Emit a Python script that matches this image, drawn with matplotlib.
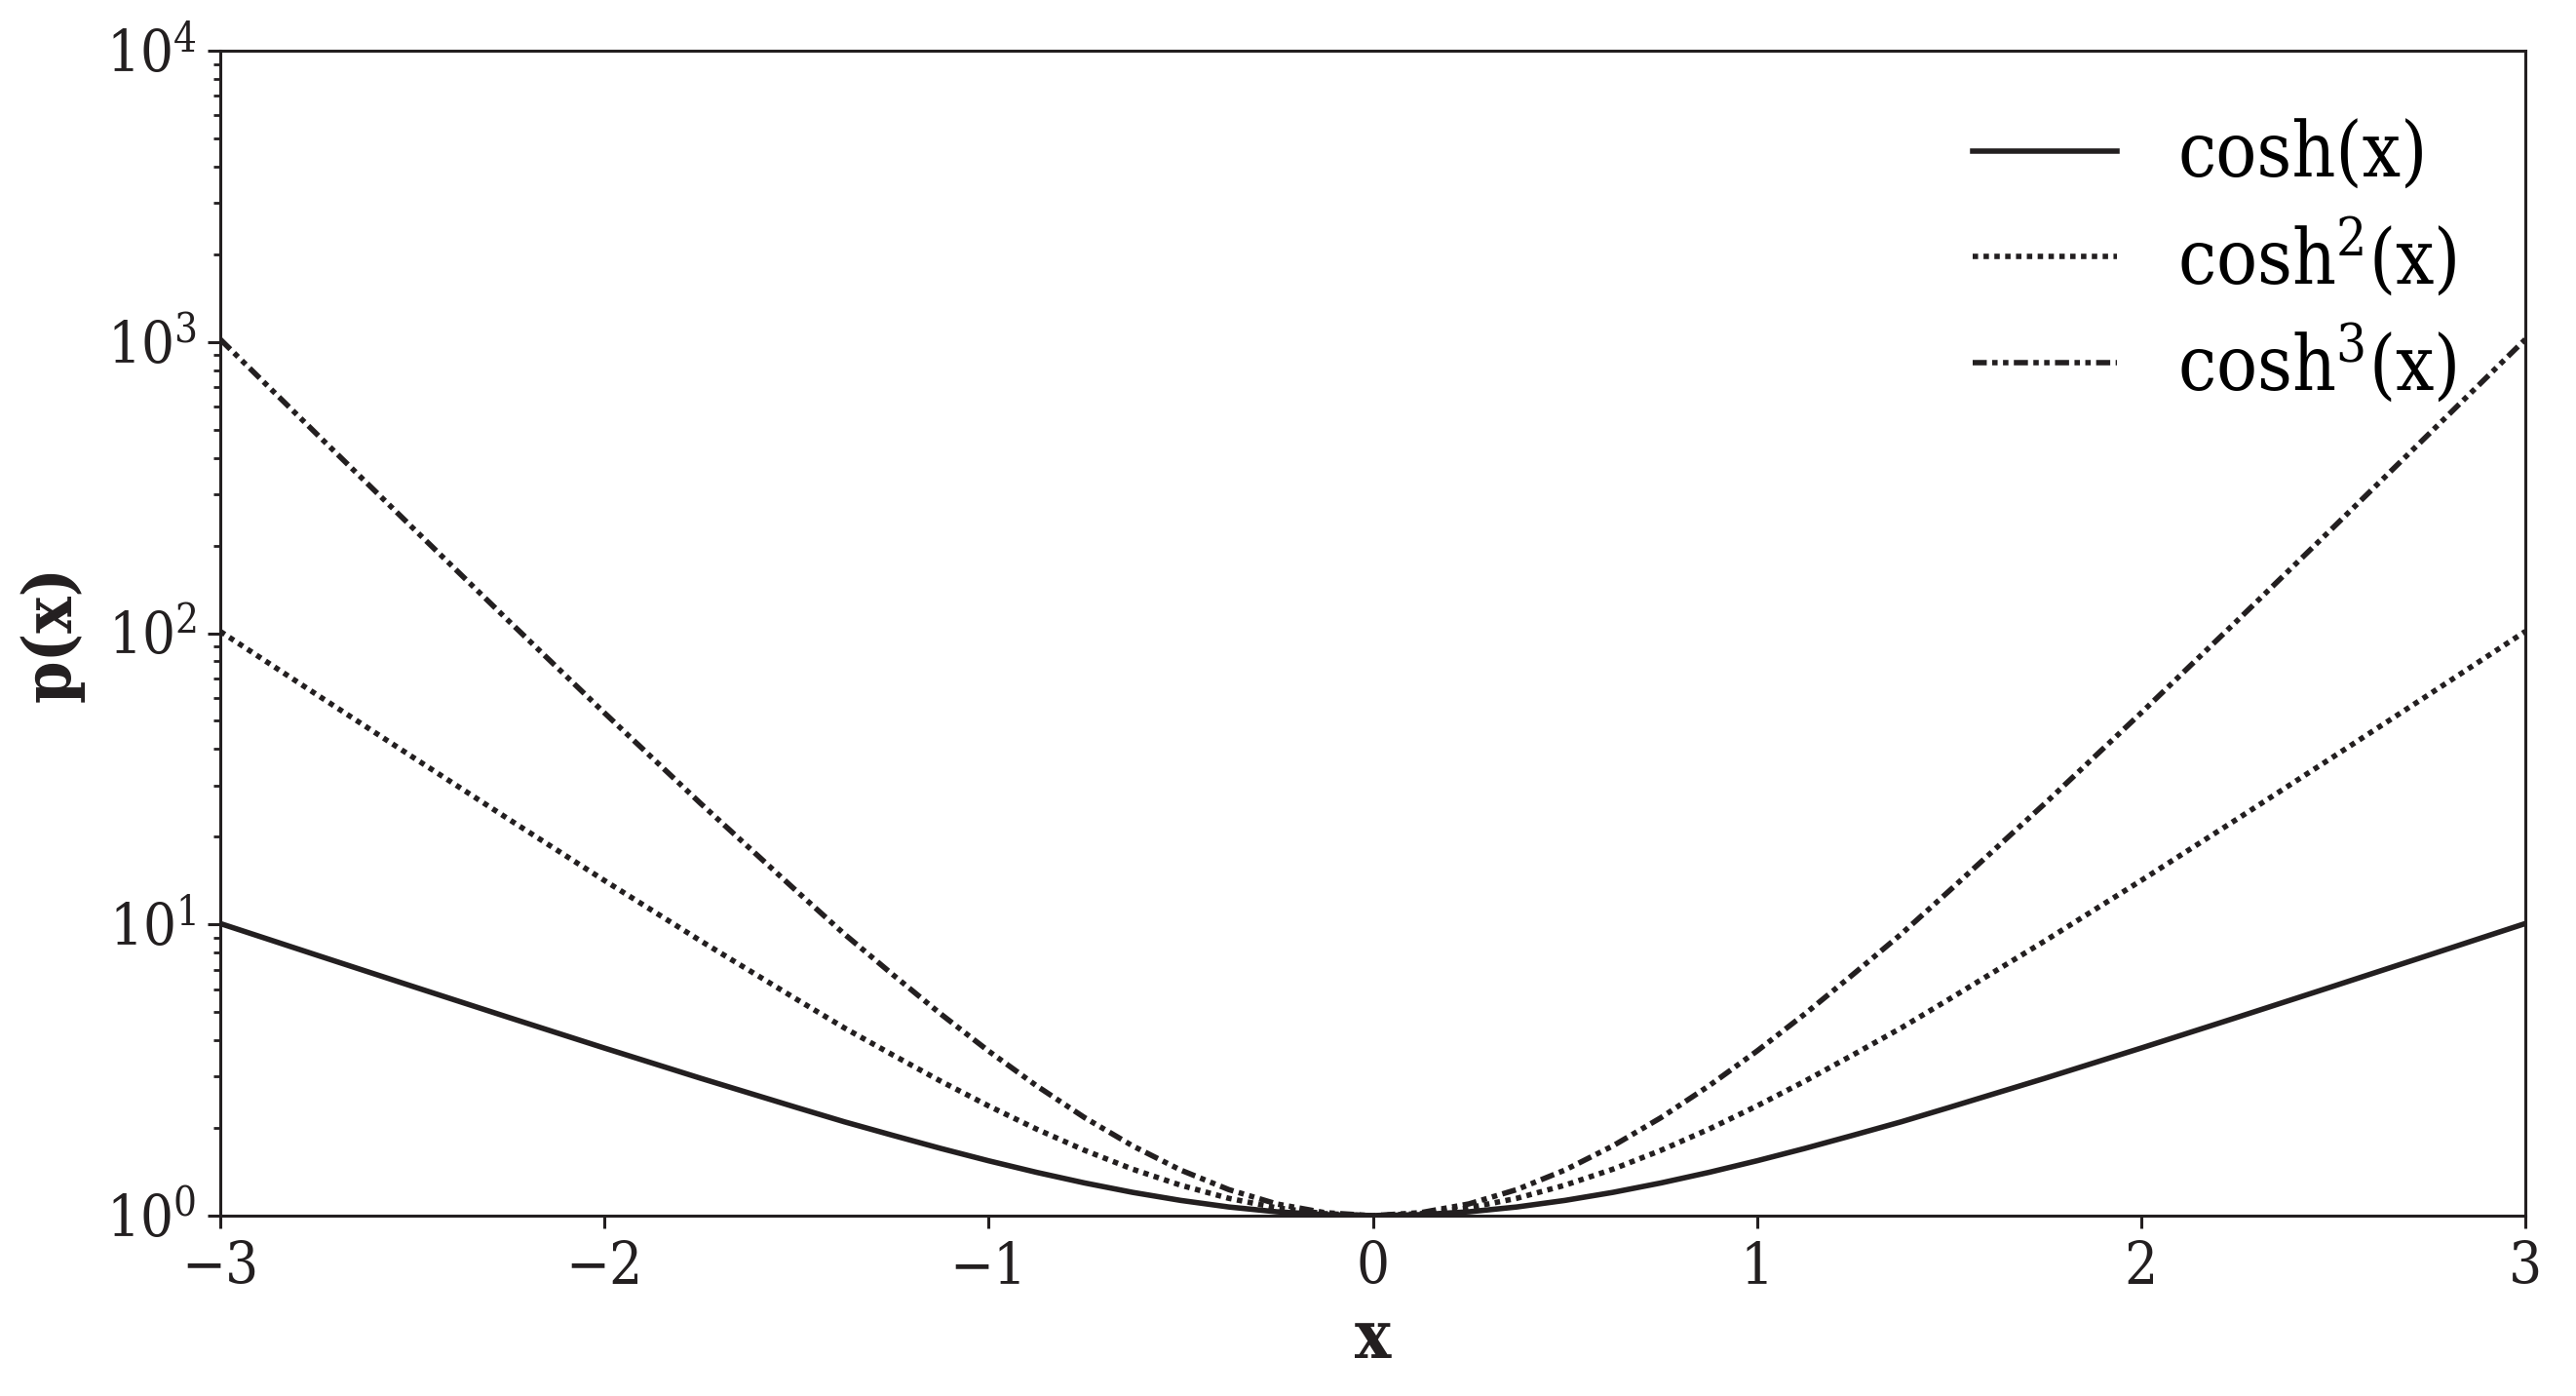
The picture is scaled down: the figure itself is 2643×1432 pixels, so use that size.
import numpy as np
import matplotlib
matplotlib.use('Agg')
import matplotlib.pyplot as plt

# values (symmetric about x = 0)
x_half = [0.0, 0.125, 0.25, 0.375, 0.5, 0.625, 0.75, 0.875, 1.0, 1.125, 1.25, 1.375,
          1.5, 1.75, 2.0, 2.25, 2.5, 2.75, 3.0]
cosh1_half = [1.000, 1.008, 1.031, 1.071, 1.128, 1.202, 1.295, 1.408, 1.543, 1.702, 1.888, 2.099,
              2.352, 2.964, 3.762, 4.797, 6.132, 7.853, 10.07]
cosh2_half = [1.000, 1.016, 1.064, 1.147, 1.272, 1.444, 1.676, 1.982, 2.381, 2.897, 3.566, 4.408,
              5.534, 8.787, 14.15, 23.01, 37.61, 61.67, 101.4]
cosh3_half = [1.000, 1.024, 1.097, 1.229, 1.434, 1.736, 2.170, 2.791, 3.674, 4.931, 6.734, 9.254,
              13.02, 26.05, 53.25, 110.4, 230.6, 484.3, 1020.5]

x_vals = [-v for v in x_half[:0:-1]] + x_half
cosh1 = cosh1_half[:0:-1] + cosh1_half
cosh2 = cosh2_half[:0:-1] + cosh2_half
cosh3 = cosh3_half[:0:-1] + cosh3_half

ink = '#231f20'
plt.rcParams['font.family'] = 'DejaVu Serif'
plt.rcParams['font.stretch'] = 'condensed'
plt.rcParams['mathtext.fontset'] = 'dejavuserif'

fig = plt.figure(figsize=(13.215, 7.16), dpi=200)
ax = fig.add_axes([226 / 2643, 1 - 1247 / 1432, (2591 - 226) / 2643, (1247 - 52) / 1432])

ax.plot(x_vals, cosh1, color=ink, lw=2.0, linestyle='-', label='cosh(x)')
ax.plot(x_vals, cosh2, color=ink, lw=2.0, linestyle=(0, (1.0, 1.0)), label=r'cosh$^2$(x)')
ax.plot(x_vals, cosh3, color=ink, lw=2.0, linestyle=(0, (2.6, 1.0, 1.0, 1.0, 1.0, 1.0)), label=r'cosh$^3$(x)')

ax.set_yscale('log')
ax.set_xlim(-3, 3)
ax.set_ylim(1, 1e4)
ax.set_xticks([-3, -2, -1, 0, 1, 2, 3])

for s in ax.spines.values():
    s.set_color(ink)
    s.set_linewidth(1.1)
ax.tick_params(which='major', length=4.7, width=1.1, color=ink, labelsize=21.5, labelcolor=ink, pad=4)
ax.tick_params(which='minor', length=2.6, width=1.0, color=ink)

ax.set_xlabel('x', fontsize=25, fontweight='bold', color=ink, labelpad=4)
ax.set_ylabel('p(x)', fontsize=25, fontweight='bold', color=ink, labelpad=8)

ax.legend(loc='upper right', frameon=False, fontsize=28, handlelength=1.9, labelspacing=0.3)

fig.savefig('out.png', dpi=200)
